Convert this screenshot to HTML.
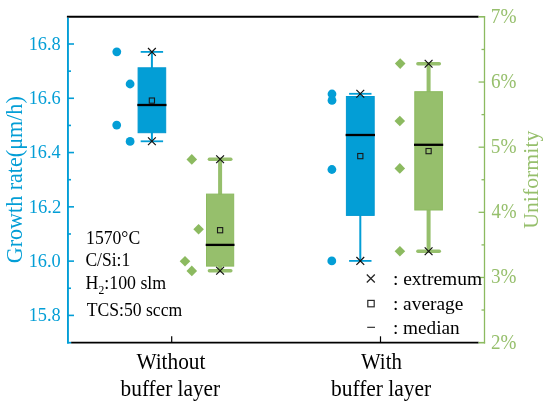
<!DOCTYPE html>
<html><head><meta charset="utf-8"><style>
html,body{margin:0;padding:0;background:#fff;width:550px;height:407px;overflow:hidden}
svg{display:block}
text{font-family:"Liberation Serif","Times New Roman",serif}
</style></head><body>
<svg width="550" height="407" viewBox="0 0 550 407">
<line x1="66.9" y1="16.8" x2="478.6" y2="16.8" stroke="#000" stroke-width="1.9"/>
<line x1="478.6" y1="16.8" x2="485.1" y2="16.8" stroke="#8cba60" stroke-width="1.6"/>
<line x1="71.1" y1="342.7" x2="478.6" y2="342.7" stroke="#000" stroke-width="1.7"/>
<line x1="478.6" y1="342.7" x2="485.1" y2="342.7" stroke="#8cba60" stroke-width="1.6"/>
<line x1="67" y1="342.7" x2="71.1" y2="342.7" stroke="#039ed6" stroke-width="1.7"/>
<line x1="68" y1="315.40" x2="74" y2="315.40" stroke="#039ed6" stroke-width="1.6"/>
<text transform="translate(28.68,321.25) scale(0.9271,1)" font-size="19.8" fill="#039ed6">15.8</text>
<line x1="68" y1="288.26" x2="71" y2="288.26" stroke="#039ed6" stroke-width="1.6"/>
<line x1="68" y1="261.12" x2="74" y2="261.12" stroke="#039ed6" stroke-width="1.6"/>
<text transform="translate(28.68,266.97) scale(0.9271,1)" font-size="19.8" fill="#039ed6">16.0</text>
<line x1="68" y1="233.98" x2="71" y2="233.98" stroke="#039ed6" stroke-width="1.6"/>
<line x1="68" y1="206.84" x2="74" y2="206.84" stroke="#039ed6" stroke-width="1.6"/>
<text transform="translate(28.65,212.69) scale(0.9417,1)" font-size="19.8" fill="#039ed6">16.2</text>
<line x1="68" y1="179.70" x2="71" y2="179.70" stroke="#039ed6" stroke-width="1.6"/>
<line x1="68" y1="152.56" x2="74" y2="152.56" stroke="#039ed6" stroke-width="1.6"/>
<text transform="translate(28.69,158.41) scale(0.9200,1)" font-size="19.8" fill="#039ed6">16.4</text>
<line x1="68" y1="125.42" x2="71" y2="125.42" stroke="#039ed6" stroke-width="1.6"/>
<line x1="68" y1="98.28" x2="74" y2="98.28" stroke="#039ed6" stroke-width="1.6"/>
<text transform="translate(28.68,104.13) scale(0.9271,1)" font-size="19.8" fill="#039ed6">16.6</text>
<line x1="68" y1="71.14" x2="71" y2="71.14" stroke="#039ed6" stroke-width="1.6"/>
<line x1="68" y1="44.00" x2="74" y2="44.00" stroke="#039ed6" stroke-width="1.6"/>
<text transform="translate(28.68,49.85) scale(0.9271,1)" font-size="19.8" fill="#039ed6">16.8</text>
<text transform="translate(491.07,348.50) scale(0.9282,1)" font-size="20.6" fill="#96bf6c">2%</text>
<line x1="481.5" y1="310.03" x2="484.5" y2="310.03" stroke="#8cba60" stroke-width="1.3"/>
<line x1="478.6" y1="277.46" x2="484.5" y2="277.46" stroke="#8cba60" stroke-width="1.3"/>
<text transform="translate(491.07,283.36) scale(0.9282,1)" font-size="20.6" fill="#96bf6c">3%</text>
<line x1="481.5" y1="244.89" x2="484.5" y2="244.89" stroke="#8cba60" stroke-width="1.3"/>
<line x1="478.6" y1="212.32" x2="484.5" y2="212.32" stroke="#8cba60" stroke-width="1.3"/>
<text transform="translate(491.54,218.22) scale(0.9105,1)" font-size="20.6" fill="#96bf6c">4%</text>
<line x1="481.5" y1="179.75" x2="484.5" y2="179.75" stroke="#8cba60" stroke-width="1.3"/>
<line x1="478.6" y1="147.18" x2="484.5" y2="147.18" stroke="#8cba60" stroke-width="1.3"/>
<text transform="translate(490.83,153.08) scale(0.9373,1)" font-size="20.6" fill="#96bf6c">5%</text>
<line x1="481.5" y1="114.61" x2="484.5" y2="114.61" stroke="#8cba60" stroke-width="1.3"/>
<line x1="478.6" y1="82.04" x2="484.5" y2="82.04" stroke="#8cba60" stroke-width="1.3"/>
<text transform="translate(491.07,87.94) scale(0.9282,1)" font-size="20.6" fill="#96bf6c">6%</text>
<line x1="481.5" y1="49.47" x2="484.5" y2="49.47" stroke="#8cba60" stroke-width="1.3"/>
<text transform="translate(490.83,22.80) scale(0.9373,1)" font-size="20.6" fill="#96bf6c">7%</text>
<line x1="67.95" y1="17.7" x2="67.95" y2="343.55" stroke="#039ed6" stroke-width="1.9"/>
<line x1="484.5" y1="15.9" x2="484.5" y2="343.55" stroke="#8cba60" stroke-width="1.3"/>
<line x1="171.7" y1="336.3" x2="171.7" y2="342" stroke="#000" stroke-width="1.2"/>
<line x1="380.5" y1="336.3" x2="380.5" y2="342" stroke="#000" stroke-width="1.2"/>
<line x1="151.9" y1="51.9" x2="151.9" y2="141.3" stroke="#039ed6" stroke-width="2.0"/><line x1="140.70000000000002" y1="51.9" x2="163.1" y2="51.9" stroke="#039ed6" stroke-width="1.8"/><line x1="140.70000000000002" y1="141.3" x2="163.1" y2="141.3" stroke="#039ed6" stroke-width="1.8"/><rect x="138.1" y="67.8" width="27.6" height="64.89999999999999" fill="#039ed6" stroke="#0398d0" stroke-width="1"/><line x1="137.29999999999998" y1="105.0" x2="166.50000000000003" y2="105.0" stroke="#000" stroke-width="2.3"/><rect x="149.3" y="98.0" width="5.2" height="5.2" fill="none" stroke="#1a1a1a" stroke-width="1.1"/><path d="M148.00 48.00L155.80 55.80M155.80 48.00L148.00 55.80" stroke="#111" stroke-width="1.2" fill="none"/><path d="M148.00 137.40L155.80 145.20M155.80 137.40L148.00 145.20" stroke="#111" stroke-width="1.2" fill="none"/>
<line x1="220.1" y1="159.3" x2="220.1" y2="270.8" stroke="#96bf6c" stroke-width="4.0"/><line x1="209.4" y1="159.3" x2="230.79999999999998" y2="159.3" stroke="#96bf6c" stroke-width="3.5" stroke-linecap="round"/><line x1="209.4" y1="270.8" x2="230.79999999999998" y2="270.8" stroke="#96bf6c" stroke-width="3.5" stroke-linecap="round"/><rect x="206.5" y="194.1" width="27.2" height="72.00000000000003" fill="#96bf6c" stroke="#8cba60" stroke-width="1"/><line x1="205.7" y1="244.9" x2="234.5" y2="244.9" stroke="#000" stroke-width="2.3"/><rect x="217.5" y="227.6" width="5.2" height="5.2" fill="none" stroke="#1a1a1a" stroke-width="1.1"/><path d="M216.20 155.40L224.00 163.20M224.00 155.40L216.20 163.20" stroke="#111" stroke-width="1.2" fill="none"/><path d="M216.20 266.90L224.00 274.70M224.00 266.90L216.20 274.70" stroke="#111" stroke-width="1.2" fill="none"/>
<line x1="360.3" y1="93.8" x2="360.3" y2="260.9" stroke="#039ed6" stroke-width="2.0"/><line x1="349.1" y1="93.8" x2="371.5" y2="93.8" stroke="#039ed6" stroke-width="1.8"/><line x1="349.1" y1="260.9" x2="371.5" y2="260.9" stroke="#039ed6" stroke-width="1.8"/><rect x="346.40000000000003" y="96.5" width="27.8" height="118.9" fill="#039ed6" stroke="#0398d0" stroke-width="1"/><line x1="345.6" y1="135.0" x2="375.0" y2="135.0" stroke="#000" stroke-width="2.3"/><rect x="357.7" y="153.5" width="5.2" height="5.2" fill="none" stroke="#1a1a1a" stroke-width="1.1"/><path d="M356.40 89.90L364.20 97.70M364.20 89.90L356.40 97.70" stroke="#111" stroke-width="1.2" fill="none"/><path d="M356.40 257.00L364.20 264.80M364.20 257.00L356.40 264.80" stroke="#111" stroke-width="1.2" fill="none"/>
<line x1="428.6" y1="63.7" x2="428.6" y2="251.2" stroke="#96bf6c" stroke-width="4.0"/><line x1="417.90000000000003" y1="63.7" x2="439.3" y2="63.7" stroke="#96bf6c" stroke-width="3.5" stroke-linecap="round"/><line x1="417.90000000000003" y1="251.2" x2="439.3" y2="251.2" stroke="#96bf6c" stroke-width="3.5" stroke-linecap="round"/><rect x="414.8" y="91.7" width="27.6" height="118.3" fill="#96bf6c" stroke="#8cba60" stroke-width="1"/><line x1="414.0" y1="144.8" x2="443.20000000000005" y2="144.8" stroke="#000" stroke-width="2.3"/><rect x="426.0" y="148.5" width="5.2" height="5.2" fill="none" stroke="#1a1a1a" stroke-width="1.1"/><path d="M424.70 59.80L432.50 67.60M432.50 59.80L424.70 67.60" stroke="#111" stroke-width="1.2" fill="none"/><path d="M424.70 247.30L432.50 255.10M432.50 247.30L424.70 255.10" stroke="#111" stroke-width="1.2" fill="none"/>
<circle cx="116.8" cy="51.8" r="4.4" fill="#039ed6"/>
<circle cx="130.1" cy="84.0" r="4.4" fill="#039ed6"/>
<circle cx="116.7" cy="125.1" r="4.4" fill="#039ed6"/>
<circle cx="130.1" cy="141.4" r="4.4" fill="#039ed6"/>
<circle cx="332.0" cy="94.0" r="4.4" fill="#039ed6"/>
<circle cx="332.0" cy="100.4" r="4.4" fill="#039ed6"/>
<circle cx="331.9" cy="169.5" r="4.4" fill="#039ed6"/>
<circle cx="331.8" cy="260.9" r="4.4" fill="#039ed6"/>
<path d="M191.8 154.1L197.10000000000002 159.4L191.8 164.70000000000002L186.5 159.4Z" fill="#8cba60"/>
<path d="M198.6 223.89999999999998L203.9 229.2L198.6 234.5L193.29999999999998 229.2Z" fill="#8cba60"/>
<path d="M185.0 255.89999999999998L190.3 261.2L185.0 266.5L179.7 261.2Z" fill="#8cba60"/>
<path d="M191.8 265.59999999999997L197.10000000000002 270.9L191.8 276.2L186.5 270.9Z" fill="#8cba60"/>
<path d="M400.2 58.300000000000004L405.5 63.6L400.2 68.9L394.9 63.6Z" fill="#8cba60"/>
<path d="M399.8 115.7L405.1 121.0L399.8 126.3L394.5 121.0Z" fill="#8cba60"/>
<path d="M399.8 163.1L405.1 168.4L399.8 173.70000000000002L394.5 168.4Z" fill="#8cba60"/>
<path d="M399.9 245.89999999999998L405.2 251.2L399.9 256.5L394.59999999999997 251.2Z" fill="#8cba60"/>
<text transform="translate(21.70,263.30) rotate(-90) scale(0.9955,1)" font-size="22.2" fill="#039ed6">Growth rate(μm/h)</text>
<text transform="translate(538.40,228.80) rotate(-90) scale(0.9919,1)" font-size="22.0" fill="#96bf6c">Uniformity</text>
<text transform="translate(136.40,368.60) scale(0.9356,1)" font-size="22.8" fill="#000">Without</text>
<text transform="translate(120.60,395.50) scale(0.9346,1)" font-size="22.8" fill="#000">buffer layer</text>
<text transform="translate(361.00,368.50) scale(0.9153,1)" font-size="22.8" fill="#000">With</text>
<text transform="translate(331.00,395.60) scale(0.9412,1)" font-size="22.8" fill="#000">buffer layer</text>
<text transform="translate(86.10,243.90) scale(0.9138,1)" font-size="19.3" fill="#000">1570°C</text>
<text transform="translate(85.42,266.40) scale(0.9079,1)" font-size="19.3" fill="#000">C/Si:1</text>
<text transform="translate(85.54,289.00) scale(0.9249,1)" font-size="19.3" fill="#000">H<tspan font-size="12.6" dy="5">2</tspan><tspan dy="-5">:100 slm</tspan></text>
<text transform="translate(86.77,316.40) scale(0.9135,1)" font-size="19.3" fill="#000">TCS:50 sccm</text>
<path d="M366.80 274.50L374.80 282.50M374.80 274.50L366.80 282.50" stroke="#222" stroke-width="1.2" fill="none"/>
<rect x="367.8" y="300.4" width="6.4" height="6.4" fill="none" stroke="#2a2a2a" stroke-width="1.2"/>
<line x1="367.2" y1="327.3" x2="375" y2="327.3" stroke="#222" stroke-width="1.1"/>
<text transform="translate(392.88,284.60) scale(1.0104,1)" font-size="19.3" fill="#000">: extremum</text>
<text transform="translate(392.89,309.50) scale(1.0044,1)" font-size="19.3" fill="#000">: average</text>
<text transform="translate(392.90,333.60) scale(0.9977,1)" font-size="19.3" fill="#000">: median</text>
</svg>
</body></html>
